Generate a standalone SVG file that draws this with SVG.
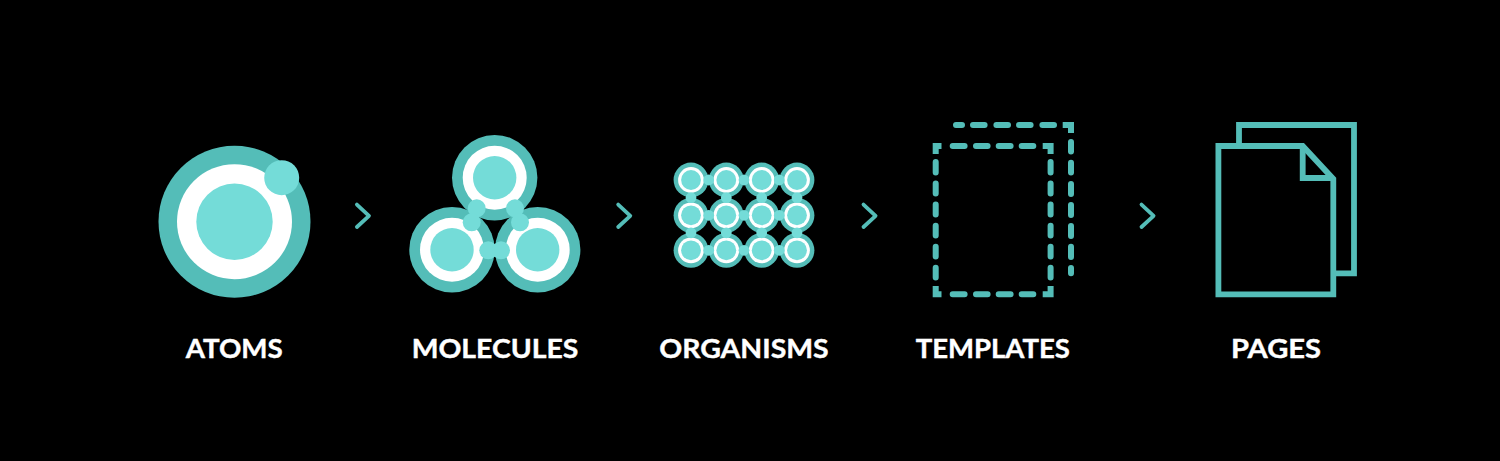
<svg xmlns="http://www.w3.org/2000/svg" width="1500" height="461" viewBox="0 0 1500 461">
<style>
.r{fill:#54bdb8}.w{fill:#fff}.l{fill:#74dcd8}
.t{font-family:"Lato","Inter","Liberation Sans",sans-serif;font-weight:700;font-size:27px;fill:#fff;stroke:#fff;stroke-width:.4;text-anchor:middle}
.c{fill:none;stroke:#54bdb8;stroke-width:3.8;stroke-linecap:round;stroke-linejoin:round}
.d{fill:none;stroke:#54bdb8;stroke-width:6;stroke-linecap:round}
.k{fill:none;stroke:#54bdb8;stroke-width:6;stroke-linecap:butt;stroke-linejoin:miter}
.p{fill:none;stroke:#54bdb8;stroke-width:5.8;stroke-linejoin:miter}
</style>
<defs>
<g id="m"><circle r="42.7" class="r"/><circle r="32" class="w"/><circle r="21.7" class="l"/></g>
<g id="o"><circle r="17.4" class="r"/><circle r="12.9" class="w"/><circle r="9.9" class="l"/></g>
</defs>
<rect width="1500" height="461" fill="#000"/>
<g id="connectors">
<path class="c" d="M356.9 204.6L369 215.8L356.9 227"/>
<path class="c" d="M618.2 204.6L630.3 215.8L618.2 227"/>
<path class="c" d="M863.5 204.6L875.6 215.8L863.5 227"/>
<path class="c" d="M1141.5 204.6L1153.6 215.8L1141.5 227"/>
</g>
<g id="atoms">
<circle cx="234.5" cy="221.7" r="76" class="r"/><circle cx="234.5" cy="221.7" r="57.5" class="w"/><circle cx="234.5" cy="221.7" r="38.2" class="l"/><circle cx="281.7" cy="177.7" r="17.5" class="l"/>
<text x="234.2" y="357.7" class="t" textLength="97" lengthAdjust="spacingAndGlyphs">ATOMS</text>
</g>
<g id="molecules">
<use href="#m" x="452" y="249.7"/><use href="#m" x="537.7" y="249.7"/><use href="#m" x="494.7" y="177.7"/>
<circle cx="476.7" cy="208.3" r="9" class="l"/><circle cx="471.7" cy="222.3" r="9" class="l"/><circle cx="515" cy="208.3" r="9" class="l"/><circle cx="520" cy="222.3" r="9" class="l"/><circle cx="488.3" cy="250.3" r="9" class="l"/><circle cx="501" cy="250.3" r="9" class="l"/>
<text x="495" y="357.7" class="t" textLength="166.6" lengthAdjust="spacingAndGlyphs">MOLECULES</text>
</g>
<g id="organisms">
<use href="#o" x="691" y="180"/><use href="#o" x="726.3" y="180"/><use href="#o" x="761.7" y="180"/><use href="#o" x="797" y="180"/>
<use href="#o" x="691" y="215.3"/><use href="#o" x="726.3" y="215.3"/><use href="#o" x="761.7" y="215.3"/><use href="#o" x="797" y="215.3"/>
<use href="#o" x="691" y="250.3"/><use href="#o" x="726.3" y="250.3"/><use href="#o" x="761.7" y="250.3"/><use href="#o" x="797" y="250.3"/>
<g class="l">
<circle cx="708.7" cy="180" r="5.4"/><circle cx="744" cy="180" r="5.4"/><circle cx="779.3" cy="180" r="5.4"/>
<circle cx="708.7" cy="215.3" r="5.4"/><circle cx="744" cy="215.3" r="5.4"/><circle cx="779.3" cy="215.3" r="5.4"/>
<circle cx="708.7" cy="250.3" r="5.4"/><circle cx="744" cy="250.3" r="5.4"/><circle cx="779.3" cy="250.3" r="5.4"/>
<circle cx="691" cy="197.7" r="5.4"/><circle cx="726.3" cy="197.7" r="5.4"/><circle cx="761.7" cy="197.7" r="5.4"/><circle cx="797" cy="197.7" r="5.4"/>
<circle cx="691" cy="232.8" r="5.4"/><circle cx="726.3" cy="232.8" r="5.4"/><circle cx="761.7" cy="232.8" r="5.4"/><circle cx="797" cy="232.8" r="5.4"/>
</g>
<text x="744" y="357.7" class="t" textLength="169.4" lengthAdjust="spacingAndGlyphs">ORGANISMS</text>
</g>
<g id="templates">
<path class="d" d="M956 125H962M973 125H984.6M996.4 125H1008M1019 125H1030.6M1042.4 125H1054"/>
<path class="k" d="M1062.7 125H1071V133"/>
<path class="d" d="M1071 142V151.5M1071 162.7V172.6M1071 184V194M1071 205V215M1071 226V236M1071 246.7V257M1071 268V273.3"/>
<path class="d" d="M952.7 146H964.6M976 146H987.6M998.7 146H1010.6M1021.7 146H1033.3"/>
<path class="k" d="M941.5 146H935.7V154M1042.7 146H1050.6V154"/>
<path class="d" d="M935.7 162V172.6M935.7 183.4V193.6M935.7 204.4V214.6M935.7 225.7V235.6M935.7 246.7V256.6M935.7 267.7V277.6"/>
<path class="d" d="M1050.6 162V172.6M1050.6 183.4V193.6M1050.6 204.4V214.6M1050.6 225.7V235.6M1050.6 246.7V256.6M1050.6 267.7V277.6"/>
<path class="k" d="M935.7 286V294.3H941.5M1042.7 294.3H1050.6V286"/>
<path class="d" d="M952.7 294.3H964.6M976 294.3H987.6M998.7 294.3H1010.6M1021.7 294.3H1033.3"/>
<text x="992.8" y="357.7" class="t" textLength="154.3" lengthAdjust="spacingAndGlyphs">TEMPLATES</text>
</g>
<g id="pages">
<path class="p" d="M1239 146V125H1354V273.3H1333"/>
<path class="p" d="M1218.4 146H1302.7L1333.3 179V294.3H1218.4Z"/>
<path class="p" d="M1302.7 146V178H1333.3"/>
<text x="1276" y="357.7" class="t" textLength="90" lengthAdjust="spacingAndGlyphs">PAGES</text>
</g>
</svg>
